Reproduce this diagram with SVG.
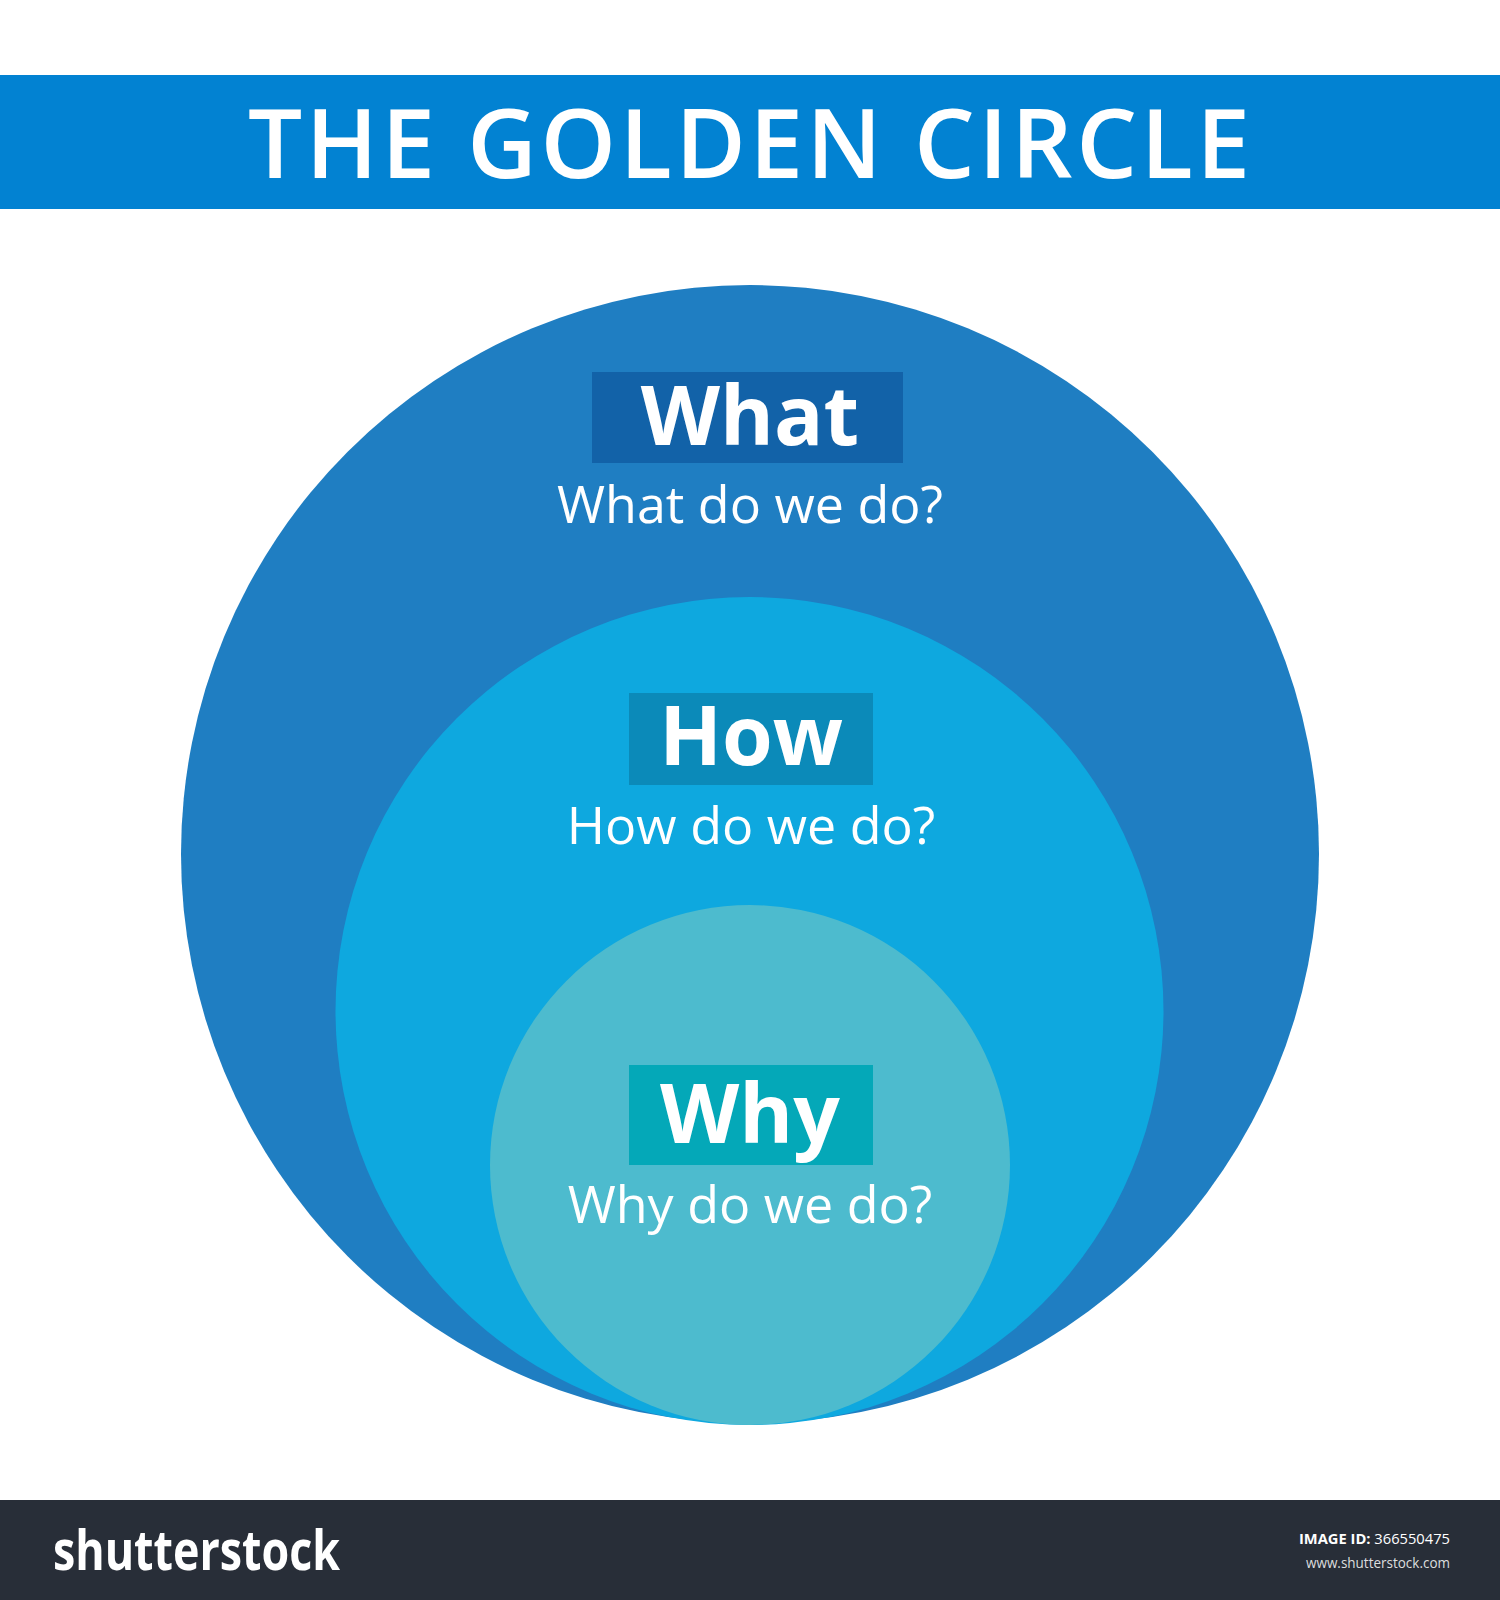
<svg xmlns="http://www.w3.org/2000/svg" width="1500" height="1600" viewBox="0 0 1500 1600">
  <style>
    .title { font-family: "Open Sans", "Noto Sans", "Liberation Sans", sans-serif; font-weight: 600; font-size: 96px; fill: #ffffff; }
    .head { font-family: "Open Sans", "Noto Sans", "Liberation Sans", sans-serif; font-weight: 700; font-size: 82px; fill: #ffffff; text-anchor: middle; }
    .sub { font-family: "Open Sans", "Noto Sans", "Liberation Sans", sans-serif; font-weight: 400; font-size: 52px; fill: #ffffff; text-anchor: middle; }
    .foot { font-family: "Open Sans", "Liberation Sans", sans-serif; fill: #ffffff; }
  </style>
  <rect x="0" y="0" width="1500" height="1600" fill="#ffffff"/>
  <g id="header">
    <rect x="0" y="75" width="1500" height="134" fill="#0282d2"/>
    <text class="title" x="248" y="178" textLength="1002" lengthAdjust="spacing">THE GOLDEN CIRCLE</text>
  </g>
  <g id="circle-what">
    <circle cx="750" cy="854" r="569" fill="#1f7ec2"/>
  </g>
  <g id="circle-how">
    <circle cx="749.5" cy="1011" r="414" fill="#0ea8df"/>
  </g>
  <g id="circle-why">
    <circle cx="750" cy="1165" r="260" fill="#4dbbce"/>
  </g>
  <g id="label-what">
    <rect x="592" y="372" width="311" height="91" fill="#1262a8"/>
    <text class="head" x="750" y="445">What</text>
    <text class="sub" x="750" y="523">What do we do?</text>
  </g>
  <g id="label-how">
    <rect x="629" y="693" width="244" height="92" fill="#0b8ab9"/>
    <text class="head" x="751" y="765">How</text>
    <text class="sub" x="751" y="844">How do we do?</text>
  </g>
  <g id="label-why">
    <rect x="629" y="1065" width="244" height="100" fill="#04a8b8"/>
    <text class="head" x="750" y="1143">Why</text>
    <text class="sub" x="750" y="1223">Why do we do?</text>
  </g>
  <g id="connectors"></g>
  <g id="footer">
    <rect x="0" y="1500" width="1500" height="100" fill="#282e38"/>
    <text class="foot" x="53" y="1570" font-size="56" font-weight="700" textLength="287" lengthAdjust="spacingAndGlyphs">shutterstock</text>
    <text class="foot" x="1299" y="1544" font-size="15" textLength="151" lengthAdjust="spacingAndGlyphs"><tspan font-weight="700">IMAGE ID:</tspan> 366550475</text>
    <text class="foot" x="1306" y="1568" font-size="14" fill-opacity="0.85" textLength="144" lengthAdjust="spacingAndGlyphs">www.shutterstock.com</text>
  </g>
</svg>
